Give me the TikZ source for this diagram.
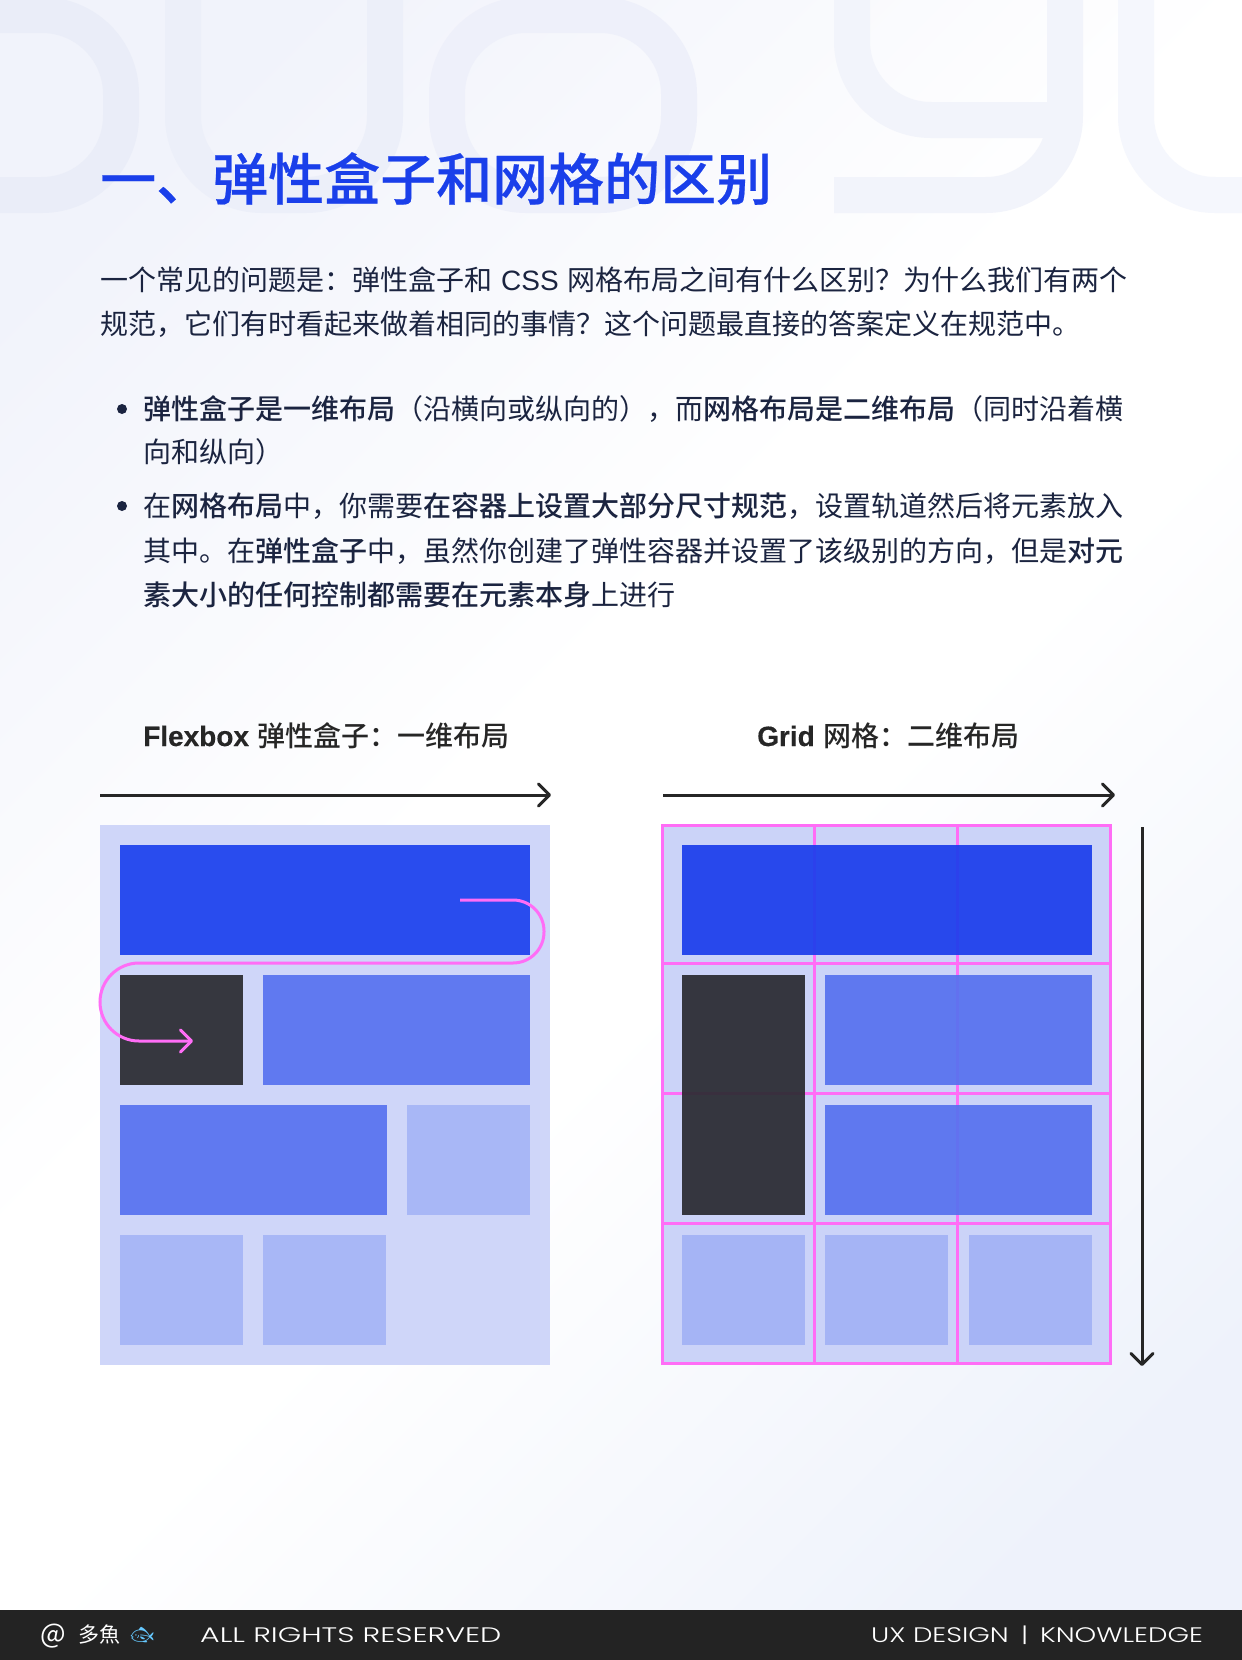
\documentclass[tikz,border=0pt]{standalone}
\usepackage{fontspec}
\setmainfont[BoldFont={Noto Sans CJK SC Medium}]{Noto Sans CJK SC}
\newfontfamily\titlefont[FakeBold=0.4]{Noto Sans CJK SC Medium}
\newfontfamily\latinfont[FakeBold=0.25]{Liberation Sans}
\newfontfamily\cssfont{Liberation Sans}
\newfontfamily\footfont[FakeStretch=1.31]{Poppins Light}
\newfontfamily\rightsfont[FakeStretch=1.43]{Poppins Light}
\newfontfamily\emojifont{Noto Emoji}
\usepackage{xcolor}
\usetikzlibrary{arrows.meta, positioning, calc}

\definecolor{inkblue}{HTML}{1A3FEA}
\definecolor{bodyink}{HTML}{1B2440}
\definecolor{darkink}{HTML}{262626}
\definecolor{pinkline}{HTML}{FF6DF6}
\definecolor{boxbg}{HTML}{CFD6F9}
\definecolor{boxstrong}{HTML}{294CEE}
\definecolor{boxmid}{HTML}{6079F0}
\definecolor{boxlight}{HTML}{A8B7F6}
\definecolor{boxdark}{HTML}{36373F}
\definecolor{gridbg}{HTML}{CBD3F8}
\definecolor{gridstrong}{HTML}{1C3EEC}
\definecolor{gridmid}{HTML}{5772EF}
\definecolor{gridlight}{HTML}{A3B2F5}
\definecolor{griddark}{HTML}{2A2B31}
\definecolor{footbar}{HTML}{232323}
\definecolor{ghosta}{HTML}{EAEDF8}
\definecolor{ghostb}{HTML}{ECEFF9}
\definecolor{ghostc}{HTML}{EEF0FA}
\definecolor{ghostd}{HTML}{F2F4FB}
\definecolor{ghoste}{HTML}{F5F7FD}

\pgfdeclarehorizontalshading{pagewash}{100bp}{
  rgb(0bp)=(0.945,0.953,0.984);
  rgb(22bp)=(0.945,0.953,0.984);
  rgb(45bp)=(1,1,1);
  rgb(55bp)=(1,1,1);
  rgb(78bp)=(0.933,0.949,0.984);
  rgb(100bp)=(0.933,0.949,0.984)}

\tikzset{
  ghost/.style={line width=36pt, rounded corners=79pt},
  bodytext/.style={anchor=base west, inner sep=0pt, text=bodyink, font=\fontsize{28pt}{28pt}\selectfont},
  headtext/.style={anchor=base west, inner sep=0pt, text=darkink, font=\fontsize{28pt}{28pt}\selectfont\bfseries},
  foottext/.style={anchor=base west, inner sep=0pt, text=white, font=\footfont\fontsize{21pt}{21pt}\selectfont},
  block/.style={anchor=north west, inner sep=0pt, outer sep=0pt, minimum width=#1},
  block/.default=123pt,
  tall/.style={minimum height=110pt},
  flowline/.style={draw=pinkline, line width=3pt},
  axisline/.style={draw=darkink, line width=3pt},
}

\begin{document}
\begin{tikzpicture}[x=1pt, y=-1pt, >={Straight Barb[length=11pt, width=22pt, round]}]

      \path[use as bounding box] (0,0) rectangle (1242,1660);
      \clip (0,0) rectangle (1242,1660);

      \shade[shading=pagewash, shading angle=-45] (0,0) rectangle (1242,1660);

      \draw[ghost, color=ghosta] (-40,15) -- (121,15) -- (121,195) -- (-40,195);
      \draw[ghost, color=ghostb] (183,-25) -- (183,195) -- (385,195) -- (385,-25);
      \draw[ghost, color=ghostc] (447,15) rectangle (679,195);
      \draw[ghost, color=ghostd] (852,-25) -- (852,120) -- (1065,120);
      \draw[ghost, color=ghostd] (1065,-25) -- (1065,195) -- (834,195);
      \draw[ghost, color=ghoste] (1136,-25) -- (1136,195) -- (1330,195);

      \node[anchor=base west, inner sep=0pt, text=inkblue, font=\titlefont\fontsize{56pt}{56pt}\selectfont] (title) at (100,200) {一、弹性盒子和网格的区别};

      \node[bodytext] (introa) at (100,290) {一个常见的问题是：弹性盒子和\hspace{9pt}{\cssfont CSS}\hspace{9pt}网格布局之间有什么区别？为什么我们有两个};
      \node[bodytext] (introb) at (100,334) {规范，它们有时看起来做着相同的事情？这个问题最直接的答案定义在规范中。};

      \node[circle, fill=bodyink, inner sep=0pt, minimum size=10pt] (dota) at (122,409) {};
      \node[circle, fill=bodyink, inner sep=0pt, minimum size=10pt] (dotb) at (122,506) {};
      \node[bodytext] (itema) at (143,419) {\textbf{弹性盒子是一维布局}（沿横向或纵向的），而\textbf{网格布局是二维布局}（同时沿着横};
      \node[bodytext] (itemb) at (143,462) {向和纵向）};
      \node[bodytext] (itemc) at (143,516) {在\textbf{网格布局}中，你需要\textbf{在容器上设置大部分尺寸规范}，设置轨道然后将元素放入};
      \node[bodytext] (itemd) at (143,561) {其中。在\textbf{弹性盒子}中，虽然你创建了弹性容器并设置了该级别的方向，但是\textbf{对元}};
      \node[bodytext] (iteme) at (143,605) {\textbf{素大小的任何控制都需要在元素本身}上进行};

      \node[headtext] (flexhead) at (143,746) {{\latinfont Flexbox}\hspace{8pt}弹性盒子：一维布局};
      \node[headtext] (gridhead) at (757,746) {{\latinfont Grid}\hspace{9pt}网格：二维布局};

      \coordinate (flexaxisa) at (100,795);
      \coordinate (flexaxisb) at (551,795);
      \coordinate (gridaxisa) at (663,795);
      \coordinate (gridaxisb) at (1115,795);
      \coordinate (gridaxisc) at (1142,827);
      \coordinate (gridaxisd) at (1142,1366);
      \draw[axisline, ->] (flexaxisa) -- (flexaxisb);
      \draw[axisline, ->] (gridaxisa) -- (gridaxisb);
      \draw[axisline, ->] (gridaxisc) -- (gridaxisd);

      \node[block=450pt, minimum height=540pt, fill=boxbg] (flexbox) at (100,825) {};
      \node[block=410pt, tall, fill=boxstrong] (flexa) at (120,845) {};
      \node[block, tall, fill=boxdark] (flexb) at (120,975) {};
      \node[block=267pt, tall, fill=boxmid] (flexc) at (263,975) {};
      \node[block=267pt, tall, fill=boxmid] (flexd) at (120,1105) {};
      \node[block, tall, fill=boxlight] (flexe) at (407,1105) {};
      \node[block, tall, fill=boxlight] (flexf) at (120,1235) {};
      \node[block, tall, fill=boxlight] (flexg) at (263,1235) {};

      \coordinate (bendstart) at (460,900);
      \coordinate (bendend) at (193,1041);
      \draw[flowline, ->] (bendstart) [rounded corners=31pt] -- (544,900) -- (544,963)
      [rounded corners=39pt] -- (100,963) -- (100,1041) -- (bendend);

      \node[block=448pt, minimum height=538pt, fill=gridbg] (gridbox) at (662,825) {};
      \foreach \gx in {814,957}
      \draw[flowline] (\gx,0 |- gridbox.north) -- (\gx,0 |- gridbox.south);
      \foreach \gy in {963,1093,1223}
      \draw[flowline] (gridbox.west |- 0,\gy) -- (gridbox.east |- 0,\gy);
      \draw[flowline] (gridbox.north west) rectangle (gridbox.south east);

      \begin{scope}[fill opacity=0.93]
      \node[block=410pt, tall, fill=gridstrong] (grida) at (682,845) {};
      \node[block, minimum height=240pt, fill=griddark] (gridb) at (682,975) {};
      \node[block=267pt, tall, fill=gridmid] (gridc) at (825,975) {};
      \node[block=267pt, tall, fill=gridmid] (gridd) at (825,1105) {};
      \node[block, tall, fill=gridlight] (gride) at (682,1235) {};
      \node[block, tall, fill=gridlight] (gridf) at (825,1235) {};
      \node[block, tall, fill=gridlight] (gridg) at (969,1235) {};
      \end{scope}

      \fill[footbar] (0,1610) rectangle (1242,1660);
      \node[anchor=base west, inner sep=0pt, text=white, font=\fontsize{27pt}{27pt}\selectfont] (at) at (40,1643) {@};
      \node[anchor=base west, inner sep=0pt, text=white, font=\fontsize{21pt}{21pt}\selectfont] (name) at (78,1642) {多魚};
      \node[anchor=base west, inner sep=0pt, text=blue!35!cyan!60!white, font=\emojifont\fontsize{19pt}{19pt}\selectfont] (fish) at (130,1641) {🐟};
      \node[foottext, font=\rightsfont\fontsize{21pt}{21pt}\selectfont] (rights) at (200,1642) {ALL RIGHTS RESERVED};
      \node[foottext] (design) at (871,1642) {UX DESIGN};
      \node[foottext] (divider) at (1021,1642) {|};
      \node[foottext] (field) at (1040,1642) {KNOWLEDGE};
    \end{tikzpicture}
\end{document}
